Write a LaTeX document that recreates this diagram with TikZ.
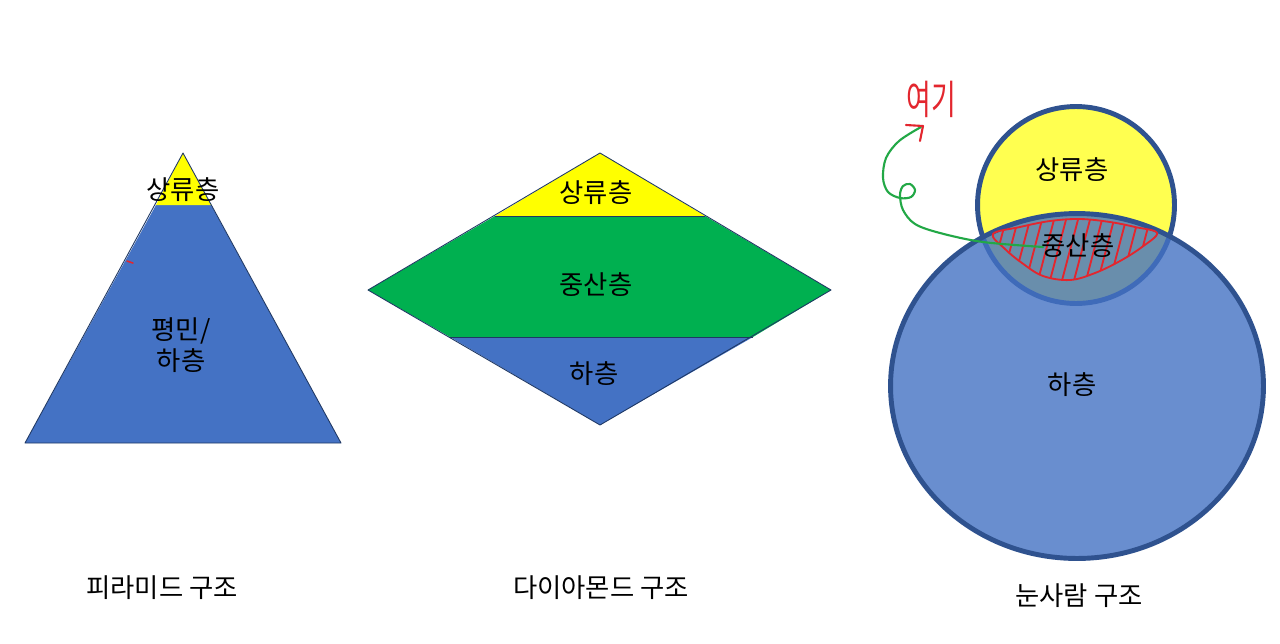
\documentclass[tikz,border=0pt]{standalone}
\usepackage{fontspec}
\newfontfamily\kr{Noto Sans CJK KR}
\definecolor{yel}{HTML}{FFFF00}
\definecolor{blu}{HTML}{4472C4}
\definecolor{grn}{HTML}{00B050}
\definecolor{edge}{HTML}{1F3864}
\definecolor{syel}{HTML}{FFFF50}
\definecolor{sborder}{HTML}{2F528F}
\definecolor{hred}{HTML}{E3262E}
\definecolor{hgreen}{HTML}{22A846}
\tikzset{
  lbl/.style={font=\kr\fontsize{15}{17.5}\selectfont, inner sep=0pt, align=center},
  layer/.style={draw=edge, line width=0.5pt, line join=round},
  hand/.style={line cap=round, line join=round}
}
\begin{document}
\begin{tikzpicture}[x=0.02cm,y=-0.02cm]
\useasboundingbox[fill=white] (0,0) rectangle (1280,643);

% ---------- Pyramid ----------
\coordinate (pA) at (183,153);
\coordinate (pL) at (25,443);
\coordinate (pR) at (341,443);
\coordinate (pyL) at (156,205);
\coordinate (pyR) at (211,205);
\fill[blu] (pyL) -- (pyR) -- (pR) -- (pL) -- cycle;
\fill[yel] (pA) -- (pyR) -- (pyL) -- cycle;
\draw[layer] (pA) -- (pR) -- (pL) -- cycle;
\draw[hred, line width=0.9pt, line cap=round] (127,261) -- (133,263);
\node[lbl] (p1) at (183,190) {상류층};
\node[lbl] (p2) at (181,345) {평민/\\하층};
\node[lbl] (p3) at (162,588) {피라미드 구조};

% ---------- Diamond ----------
\coordinate (dT) at (600,153);
\coordinate (dL) at (368,290);
\coordinate (dR) at (831,290);
\coordinate (dB) at (600,425);
\coordinate (d1L) at (495,216);
\coordinate (d1R) at (705,216);
\coordinate (d2L) at (450,337);
\coordinate (d2R) at (753,337);
\fill[grn] (d1L) -- (d1R) -- (dR) -- (d2R) -- (d2L) -- (dL) -- cycle;
\fill[yel] (dT) -- (d1R) -- (d1L) -- cycle;
\fill[blu] (d2L) -- (d2R) -- (dB) -- cycle;
\draw[layer] (dT) -- (dR) -- (dB) -- (dL) -- cycle;
\draw[layer] (d1L) -- (d1R);
\draw[layer] (d2L) -- (d2R);
\node[lbl] (d1) at (596,193) {상류층};
\node[lbl] (d2) at (596,285) {중산층};
\node[lbl] (d3) at (594,374) {하층};
\node[lbl] (d4) at (601,588) {다이아몬드 구조};

% ---------- Snowman ----------
\coordinate (sc) at (1076,205);
\coordinate (bc) at (1077,386);
\draw[fill=syel, draw=sborder, line width=2.8pt] (sc) circle [radius=1.97cm];
\fill[blu, fill opacity=0.8] (bc) ellipse [x radius=3.73cm, y radius=3.45cm];
\draw[sborder, line width=2.8pt] (bc) ellipse [x radius=3.73cm, y radius=3.45cm];

% red hatched blob
\begin{scope}
\clip plot[smooth cycle, tension=0.6] coordinates {(993,234) (1020,227) (1050,221) (1080,219) (1110,222) (1135,227) (1157,233) (1142,247) (1120,261) (1095,273) (1070,280) (1043,276) (1022,263) (1005,249)};
\foreach \x in {1008,1020,...,1185} {
  \draw[hred, line width=1.05pt, hand] (\x,212) -- (\x-20,288);
}
\end{scope}
\draw[hred, line width=1.05pt, hand] plot[smooth cycle, tension=0.6] coordinates {(993,234) (1020,227) (1050,221) (1080,219) (1110,222) (1135,227) (1157,233) (1142,247) (1120,261) (1095,273) (1070,280) (1043,276) (1022,263) (1005,249)};

\node[lbl] (s1) at (1072,170) {상류층};
\node[lbl] (s2) at (1078,246) {중산층};
\node[lbl] (s3) at (1072,385) {하층};
\node[lbl] (s4) at (1079,596) {눈사람 구조};

% green hand-drawn pointer
\draw[hgreen, line width=1.2pt, hand] plot[smooth, tension=0.55] coordinates {(1043,247) (983,242) (940,233) (915,224) (903,210) (900,195) (903,186) (910,184) (915,190) (911,197) (900,198) (888,192) (883,178) (886,158) (899,141) (921,127)};
\draw[hred, line width=1.2pt, hand] (906,125) -- (923,126) -- (920,141);
\node[font=\kr\fontsize{17}{17}\selectfont, text=hred, inner sep=0pt, yscale=1.35, xscale=0.9] (here) at (931,99) {여기};
\end{tikzpicture}
\end{document}
